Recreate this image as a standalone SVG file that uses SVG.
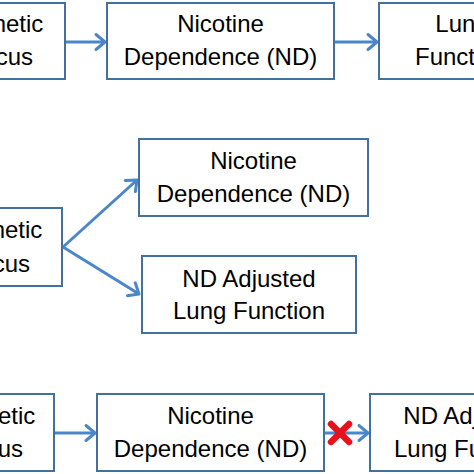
<svg xmlns="http://www.w3.org/2000/svg" width="474" height="474" viewBox="0 0 474 474">
<defs>
<style>
.box{fill:#fff;stroke:#41719c;stroke-width:2}
.t{font-family:"Liberation Sans",Arial,sans-serif;font-size:24px;fill:#000;text-anchor:middle}
.c{fill:none;stroke:#4a86c8;stroke-width:3}
</style>
<marker id="ah" markerUnits="userSpaceOnUse" markerWidth="20" markerHeight="20" viewBox="-12 -10 14 20" refX="0" refY="0" orient="auto">
<path d="M-9,-7.5 L0,0 L-9,7.5" fill="none" stroke="#4a86c8" stroke-width="3" stroke-linecap="round" stroke-linejoin="round"/>
</marker>
</defs>
<rect width="474" height="474" fill="#fff"/>
<g id="connectors">
<line class="c" x1="66" y1="42" x2="105" y2="42" marker-end="url(#ah)"/>
<line class="c" x1="335" y1="42" x2="377" y2="42" marker-end="url(#ah)"/>
<line class="c" x1="63" y1="247" x2="137" y2="180" marker-end="url(#ah)"/>
<line class="c" x1="63" y1="247" x2="139" y2="294" marker-end="url(#ah)"/>
<line class="c" x1="55" y1="433" x2="95" y2="433" marker-end="url(#ah)"/>
<line class="c" x1="325" y1="433" x2="368" y2="433" marker-end="url(#ah)"/>
<path d="M331,424 L349,442 M349,424 L331,442" stroke="#e8101a" stroke-width="6.5" stroke-linecap="round"/>
</g>
<g id="r1-locus">
<rect class="box" x="-59" y="3" width="124" height="76"/>
<text class="t" x="2" y="32">Genetic</text>
<text class="t" x="1" y="65">Locus</text>
</g>
<g id="r1-nd">
<rect class="box" x="107" y="3" width="227" height="76"/>
<text class="t" x="220.5" y="32">Nicotine</text>
<text class="t" x="220.5" y="65">Dependence (ND)</text>
</g>
<g id="r1-lung">
<rect class="box" x="379" y="3" width="162" height="76"/>
<text class="t" x="462" y="32">Lung</text>
<text class="t" x="461" y="65">Function</text>
</g>
<g id="r2-locus">
<rect class="box" x="-58" y="208" width="120" height="78"/>
<text class="t" x="1" y="238">Genetic</text>
<text class="t" x="-2" y="272">Locus</text>
</g>
<g id="r2-nd">
<rect class="box" x="139" y="139" width="229" height="77"/>
<text class="t" x="253.5" y="169">Nicotine</text>
<text class="t" x="253.5" y="202">Dependence (ND)</text>
</g>
<g id="r2-adj">
<rect class="box" x="142" y="256" width="214" height="77"/>
<text class="t" x="249" y="287">ND Adjusted</text>
<text class="t" x="249" y="319">Lung Function</text>
</g>
<g id="r3-locus">
<rect class="box" x="-70" y="394" width="124" height="77"/>
<text class="t" x="-6" y="424">Genetic</text>
<text class="t" x="-9" y="457">Locus</text>
</g>
<g id="r3-nd">
<rect class="box" x="97" y="394" width="227" height="77"/>
<text class="t" x="210.5" y="424">Nicotine</text>
<text class="t" x="210.5" y="457">Dependence (ND)</text>
</g>
<g id="r3-adj">
<rect class="box" x="370" y="394" width="200" height="77"/>
<text class="t" x="470" y="424">ND Adjusted</text>
<text class="t" x="470" y="457">Lung Function</text>
</g>
</svg>
